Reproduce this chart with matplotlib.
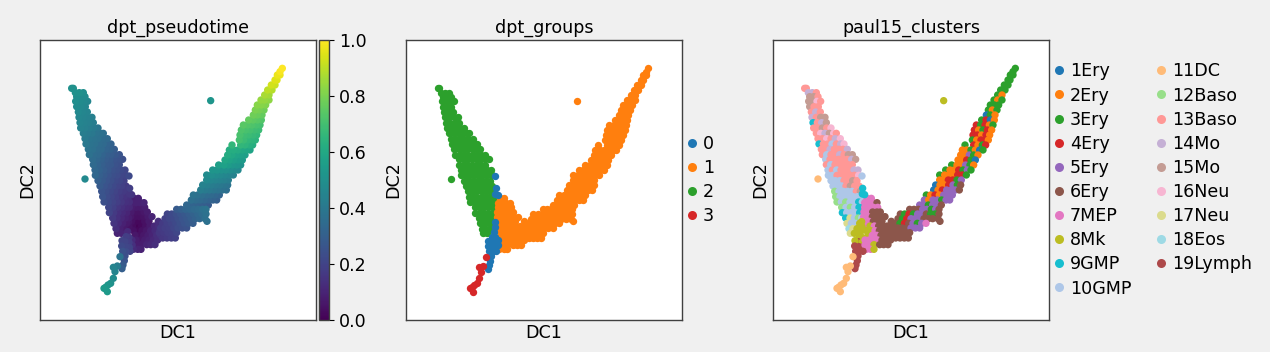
import numpy as np
import matplotlib
matplotlib.use("Agg")
import matplotlib.pyplot as plt
from matplotlib.lines import Line2D

# values, DC units are arbitrary (the axes have no ticks)
# every group is stored row by row: one DC2 value, then the cells on that row

# ----------------- group 2, left arm ----------------- #
g2_dc2 = [175, 188, 200, 214, 230, 246, 262, 278, 294, 310, 326, 342, 358, 374, 388, 404,
          420, 436, 447, 452, 468, 484, 500, 516, 532, 548, 564, 580, 596, 610]
g2_dc1 = [[125, 130], [136, 148, 160], [140, 152, 165], [137, 150, 162, 173], [140, 153, 166],
          [145, 158, 172], [147, 160, 173, 186], [150, 163, 176, 190], [152, 165, 178, 191, 204],
          [160, 173, 186, 199, 212, 220], [165, 178, 191, 204, 217, 232],
          [168, 181, 194, 207, 220, 233, 243], [175, 188, 201, 214, 227, 240, 253],
          [178, 191, 204, 217, 230, 243, 256, 268], [188, 201, 214, 227, 240, 253, 266, 278],
          [190, 203, 216, 229, 242, 255, 268], [195, 208, 221, 234, 247, 260, 273, 285],
          [196, 209, 222, 235, 248, 261, 274, 287], [165],
          [204, 217, 230, 243, 256, 269, 282], [210, 223, 236, 249, 262, 275, 288],
          [215, 228, 241, 254, 267, 280, 292], [218, 231, 244, 257, 270, 283, 295],
          [222, 235, 248, 261, 274, 287, 298], [236, 249, 262, 275, 288, 298],
          [238, 251, 264, 277, 290], [248, 261, 274, 286, 296], [252, 265, 278, 290],
          [258, 270, 282], [262, 274]]
g2_time = [[.50, .50], [.50, .50, .49], [.49, .48, .48], [.49, .48, .47, .46], [.48, .47, .46],
           [.47, .46, .45], [.46, .45, .44, .43], [.45, .44, .43, .42], [.44, .43, .42, .41, .39],
           [.42, .41, .40, .38, .37, .36], [.41, .39, .38, .37, .35, .34],
           [.40, .38, .37, .35, .34, .32, .31], [.38, .37, .35, .34, .32, .31, .29],
           [.37, .35, .34, .32, .30, .29, .27, .26], [.35, .33, .31, .29, .28, .26, .25, .24],
           [.34, .32, .30, .28, .27, .25, .24], [.33, .31, .29, .27, .25, .24, .22, .21],
           [.33, .30, .28, .26, .24, .23, .21, .20], [.47],
           [.30, .28, .26, .24, .22, .21, .19], [.28, .26, .24, .22, .20, .19, .17],
           [.26, .24, .22, .20, .18, .17, .15], [.26, .23, .21, .19, .17, .15, .14],
           [.24, .22, .20, .18, .16, .14, .13], [.21, .19, .16, .14, .12, .11],
           [.20, .17, .14, .12, .10], [.17, .14, .11, .09, .08], [.15, .12, .09, .07],
           [.13, .09, .07], [.10, .10]]
g2_cluster = [[13, 13], [14, 14, 13], [15, 15, 13], [15, 15, 16, 13], [15, 13, 13],
              [13, 14, 13], [14, 13, 15, 15], [9, 13, 14, 15], [13, 13, 15, 13, 16],
              [13, 16, 14, 15, 16, 13], [13, 13, 16, 13, 14, 16],
              [9, 13, 13, 10, 13, 14, 16], [13, 13, 14, 13, 13, 13, 14],
              [13, 10, 13, 13, 14, 13, 15, 15], [10, 13, 13, 13, 13, 13, 14, 15],
              [13, 10, 13, 13, 13, 13, 13], [10, 13, 10, 13, 13, 13, 14, 14],
              [10, 10, 13, 13, 13, 13, 13, 16], [11],
              [10, 10, 10, 13, 13, 15, 13], [10, 10, 10, 13, 15, 13, 13],
              [12, 10, 10, 10, 10, 13, 15], [12, 10, 10, 10, 10, 10, 10],
              [12, 10, 12, 10, 10, 9, 10], [12, 10, 12, 10, 9, 9],
              [9, 10, 10, 10, 9], [9, 17, 10, 12, 10], [17, 10, 10, 8], [18, 17, 8], [17, 8]]

# ----------------- group 1, right arm and joint ----------------- #
g1_dc2 = [115, 125, 135, 150, 165, 180, 195, 210, 212, 225, 240, 255, 270, 285, 300, 315, 330, 345,
          360, 375, 390, 405, 420, 435, 450, 465, 480, 495, 505, 510, 518, 525, 532, 538, 546, 552,
          560, 566, 574, 580, 588, 594, 602, 608, 616, 624, 630, 644, 658]
g1_dc1 = [[757], [750], [742, 750], [735, 741], [724, 735], [713, 726], [704, 717], [693, 704, 717],
          [542], [682, 694, 707], [676, 688, 702], [670, 682, 696], [656, 669, 682, 694],
          [640, 653, 666, 679, 690], [634, 647, 660, 673, 686], [630, 643, 656, 669, 680],
          [628, 641, 654, 667, 676], [606, 632, 645, 658, 668],
          [598, 611, 624, 637, 650, 660], [593, 606, 619, 632, 645], [585, 598, 611, 624, 637],
          [566, 582, 595, 608, 621, 632], [548, 561, 574, 587, 600, 613, 624],
          [530, 545, 558, 571, 584, 597, 610], [530, 543, 556, 569, 582, 595],
          [518, 531, 544, 557, 570, 583, 593], [512, 525, 538, 551, 564, 577, 589],
          [490, 503, 516, 529, 542, 555, 568], [312, 325], [484, 497, 510, 523, 536, 549, 560],
          [305, 318, 331, 342], [470, 483, 496, 509, 522, 535], [305, 318, 331, 344],
          [440, 453, 466, 479, 492, 505, 518, 528], [303, 316, 329, 342, 352],
          [412, 425, 438, 451, 464, 477, 490, 503, 516, 528], [302, 315, 328, 341, 354, 366],
          [405, 418, 431, 444, 457, 470, 483, 496, 509, 525],
          [305, 318, 331, 344, 357, 385, 531],
          [398, 411, 424, 437, 450, 463, 476, 489], [308, 321, 334, 347, 360, 373, 386],
          [392, 405, 418, 431, 444, 457, 470], [310, 323, 336, 349, 362, 375, 388],
          [388, 401, 414, 427, 440], [315, 328, 341, 354, 367, 380, 392], [398, 411, 424, 436],
          [318, 331, 344, 357, 370, 383], [307, 320, 333, 350, 362, 375], [310, 323, 333]]
g1_time = [[1.0], [.99], [.97, .97], [.95, .95], [.93, .92], [.90, .89], [.87, .86], [.84, .84, .83],
           [.52], [.82, .82, .81], [.80, .79, .78], [.78, .77, .76], [.76, .75, .74, .73],
           [.74, .73, .72, .71, .70], [.72, .71, .70, .69, .68], [.71, .69, .68, .67, .66],
           [.70, .68, .66, .65, .64], [.66, .66, .65, .63, .62],
           [.62, .62, .61, .60, .59, .58], [.61, .60, .58, .57, .56], [.59, .58, .56, .55, .54],
           [.56, .57, .55, .53, .52, .51], [.52, .52, .51, .50, .49, .48, .47],
           [.48, .49, .48, .47, .46, .45, .44], [.47, .46, .45, .44, .43, .42],
           [.44, .43, .42, .41, .40, .39, .38], [.42, .41, .40, .39, .38, .37, .36],
           [.38, .37, .36, .35, .34, .33, .32], [.08, .09], [.36, .35, .34, .33, .32, .31, .30],
           [.09, .09, .09, .10], [.33, .32, .31, .30, .29, .28], [.08, .07, .07, .08],
           [.28, .30, .32, .33, .34, .35, .37, .38], [.07, .05, .05, .06, .08],
           [.20, .22, .24, .26, .27, .29, .31, .33, .35, .37], [.06, .04, .04, .05, .07, .10],
           [.19, .21, .22, .24, .26, .27, .29, .31, .33, .36],
           [.04, .02, .02, .04, .07, .13, .37],
           [.17, .19, .20, .22, .24, .26, .27, .29], [.03, .0, .02, .04, .07, .11, .13],
           [.17, .18, .19, .21, .23, .24, .25], [.04, .02, .04, .06, .09, .12, .14],
           [.16, .17, .18, .19, .21], [.06, .04, .06, .08, .10, .13, .15], [.16, .17, .18, .19],
           [.08, .06, .08, .09, .11, .13], [.10, .08, .08, .10, .11, .13], [.12, .10, .09]]
g1_cluster = [[3], [3], [3, 3], [3, 3], [3, 3], [3, 3], [3, 2], [3, 2, 3],
              [8], [3, 3, 3], [3, 2, 3], [1, 3, 2], [3, 4, 1, 2],
              [4, 3, 4, 2, 3], [4, 2, 3, 4, 2], [4, 4, 2, 4, 2],
              [3, 2, 4, 4, 2], [3, 4, 2, 3, 4],
              [2, 2, 3, 2, 1, 3], [2, 2, 5, 3, 2], [2, 2, 4, 3, 1],
              [3, 2, 2, 5, 3, 2], [3, 2, 2, 4, 3, 5, 3],
              [3, 2, 2, 2, 4, 4, 3], [2, 2, 4, 4, 3, 5],
              [1, 2, 2, 4, 5, 3, 6], [1, 2, 4, 5, 5, 5, 6],
              [3, 2, 4, 2, 5, 5, 5], [7, 7], [5, 2, 5, 5, 3, 5, 5],
              [7, 7, 7, 6], [5, 5, 3, 5, 5, 6], [7, 7, 7, 7],
              [6, 6, 6, 5, 5, 3, 5, 6], [7, 7, 6, 6, 6],
              [6, 3, 4, 3, 5, 5, 6, 3, 3, 6], [7, 7, 6, 6, 6, 6],
              [6, 3, 4, 5, 5, 5, 6, 6, 6, 6],
              [7, 7, 6, 6, 6, 6, 6],
              [6, 3, 4, 6, 5, 3, 5, 7], [7, 8, 7, 6, 6, 6, 6],
              [6, 6, 6, 6, 5, 5, 5], [8, 8, 7, 6, 6, 6, 6],
              [6, 6, 6, 6, 6], [8, 7, 7, 6, 6, 6, 6], [6, 6, 6, 6],
              [7, 7, 7, 6, 6, 6], [7, 7, 8, 6, 6, 6], [7, 7, 8]]

# ----------------- group 0, strip between the arms ----------------- #
g0_dc1 = [297, 299, 298, 305, 296, 297, 293, 288, 297, 285, 297, 288, 298, 288, 285, 283, 279, 276,
          276, 306, 275, 306, 278, 300]
g0_dc2 = [438, 475, 492, 494, 575, 590, 605, 620, 622, 635, 637, 650, 652, 665, 678, 692, 705, 716,
          632, 630, 648, 645, 664, 664]
g0_time = [.22, .18, .16, .15, .06, .05, .12, .18, .17, .20, .18, .21, .20, .23, .24, .26, .28, .30,
           .20, .12, .22, .14, .25, .20]
g0_cluster = [10, 9, 9, 9, 8, 8, 8, 8, 8, 19, 8, 19, 19, 19, 19, 19, 19, 19,
              8, 7, 19, 7, 19, 19]

# ----------------- group 3, stem ----------------- #
g3_dc1 = [270, 250, 262, 255, 250, 242, 234, 222, 232, 227]
g3_dc2 = [680, 712, 708, 725, 745, 760, 765, 775, 785, 772]
g3_time = [.38, .45, .42, .45, .48, .50, .52, .54, .54, .53]
g3_cluster = [11, 11, 11, 11, 11, 11, 11, 11, 11, 11]

group_names = ['0', '1', '2', '3']
group_colors = ['#1f77b4', '#ff7f0e', '#2ca02c', '#d62728']
cluster_names = ['1Ery', '2Ery', '3Ery', '4Ery', '5Ery', '6Ery', '7MEP', '8Mk', '9GMP', '10GMP',
                 '11DC', '12Baso', '13Baso', '14Mo', '15Mo', '16Neu', '17Neu', '18Eos', '19Lymph']
cluster_colors = ['#1f77b4', '#ff7f0e', '#2ca02c', '#d62728', '#9467bd', '#8c564b', '#e377c2',
                  '#bcbd22', '#17becf', '#aec7e8', '#ffbb78', '#98df8a', '#ff9896', '#c5b0d5',
                  '#c49c94', '#f7b6d2', '#dbdb8d', '#9edae5', '#ad494a']


def flatten_rows(dc2, dc1, time, cluster):
    xs, ys, ts, cs = [], [], [], []
    for y, row_x, row_t, row_c in zip(dc2, dc1, time, cluster, strict=True):
        for x, t, c in zip(row_x, row_t, row_c, strict=True):
            xs.append(x)
            ys.append(y)
            ts.append(t)
            cs.append(c)
    return xs, ys, ts, cs


g2 = flatten_rows(g2_dc2, g2_dc1, g2_time, g2_cluster)
g1 = flatten_rows(g1_dc2, g1_dc1, g1_time, g1_cluster)
g0 = (g0_dc1, g0_dc2, g0_time, g0_cluster)
g3 = (g3_dc1, g3_dc2, g3_time, g3_cluster)
groups = {0: g0, 1: g1, 2: g2, 3: g3}

all_x = np.array(g2[0] + g1[0] + g0_dc1 + g3_dc1)
all_y = np.array(g2[1] + g1[1] + g0_dc2 + g3_dc2)
all_t = np.array(g2[2] + g1[2] + g0_time + g3_time)
all_c = np.array(g2[3] + g1[3] + g0_cluster + g3_cluster)

W, H = 1270, 352
BG = '#f0f0f0'
FS = 12.6
S = 28

plt.rcParams['font.size'] = FS
plt.rcParams['axes.linewidth'] = 1.0
fig = plt.figure(figsize=(W / 100, H / 100), dpi=100, facecolor=BG)


def make_ax(left, title):
    ax = fig.add_axes([left / W, 1 - 320 / H, 276 / W, 280 / H])
    ax.set_xlim(30, 858)
    ax.set_ylim(870, 30)
    ax.set_xticks([])
    ax.set_yticks([])
    ax.set_xlabel('DC1', labelpad=3)
    ax.set_ylabel('DC2', labelpad=3)
    ax.set_title(title, fontsize=FS, pad=5.5)
    for sp in ax.spines.values():
        sp.set_color('#404040')
    return ax


def dots(colors):
    return [Line2D([], [], marker='o', ls='none', ms=6.5, mew=0, color=c) for c in colors]


legend_style = dict(loc='center left', bbox_to_anchor=(1.0, 0.5), frameon=False, labelspacing=0.35,
                    handlelength=0.54, handletextpad=0.36, borderpad=0.3, borderaxespad=0.0, fontsize=FS)

# ----------------- dpt_pseudotime ----------------- #
ax1 = make_ax(40, 'dpt_pseudotime')
order = np.argsort(all_t)
sc = ax1.scatter(all_x[order], all_y[order], c=all_t[order], cmap='viridis', vmin=0, vmax=1, s=S, linewidths=0)
cax = fig.add_axes([319 / W, 1 - 320 / H, 10 / W, 280 / H])
cb = fig.colorbar(sc, cax=cax)
cb.set_ticks([0, .2, .4, .6, .8, 1])
cb.outline.set_edgecolor('#404040')

# ----------------- dpt_groups ----------------- #
ax2 = make_ax(406, 'dpt_groups')
for g in [2, 1, 0, 3]:
    ax2.scatter(groups[g][0], groups[g][1], color=group_colors[g], s=S, linewidths=0)
ax2.legend(dots(group_colors), group_names, **legend_style)

# ----------------- paul15_clusters ----------------- #
ax3 = make_ax(773, 'paul15_clusters')
ax3.scatter(all_x, all_y, c=[cluster_colors[i - 1] for i in all_c], s=S, linewidths=0)
ax3.legend(dots(cluster_colors), cluster_names, ncol=2, columnspacing=1.42, **legend_style)

fig.savefig('out.png', dpi=100, facecolor=BG)
